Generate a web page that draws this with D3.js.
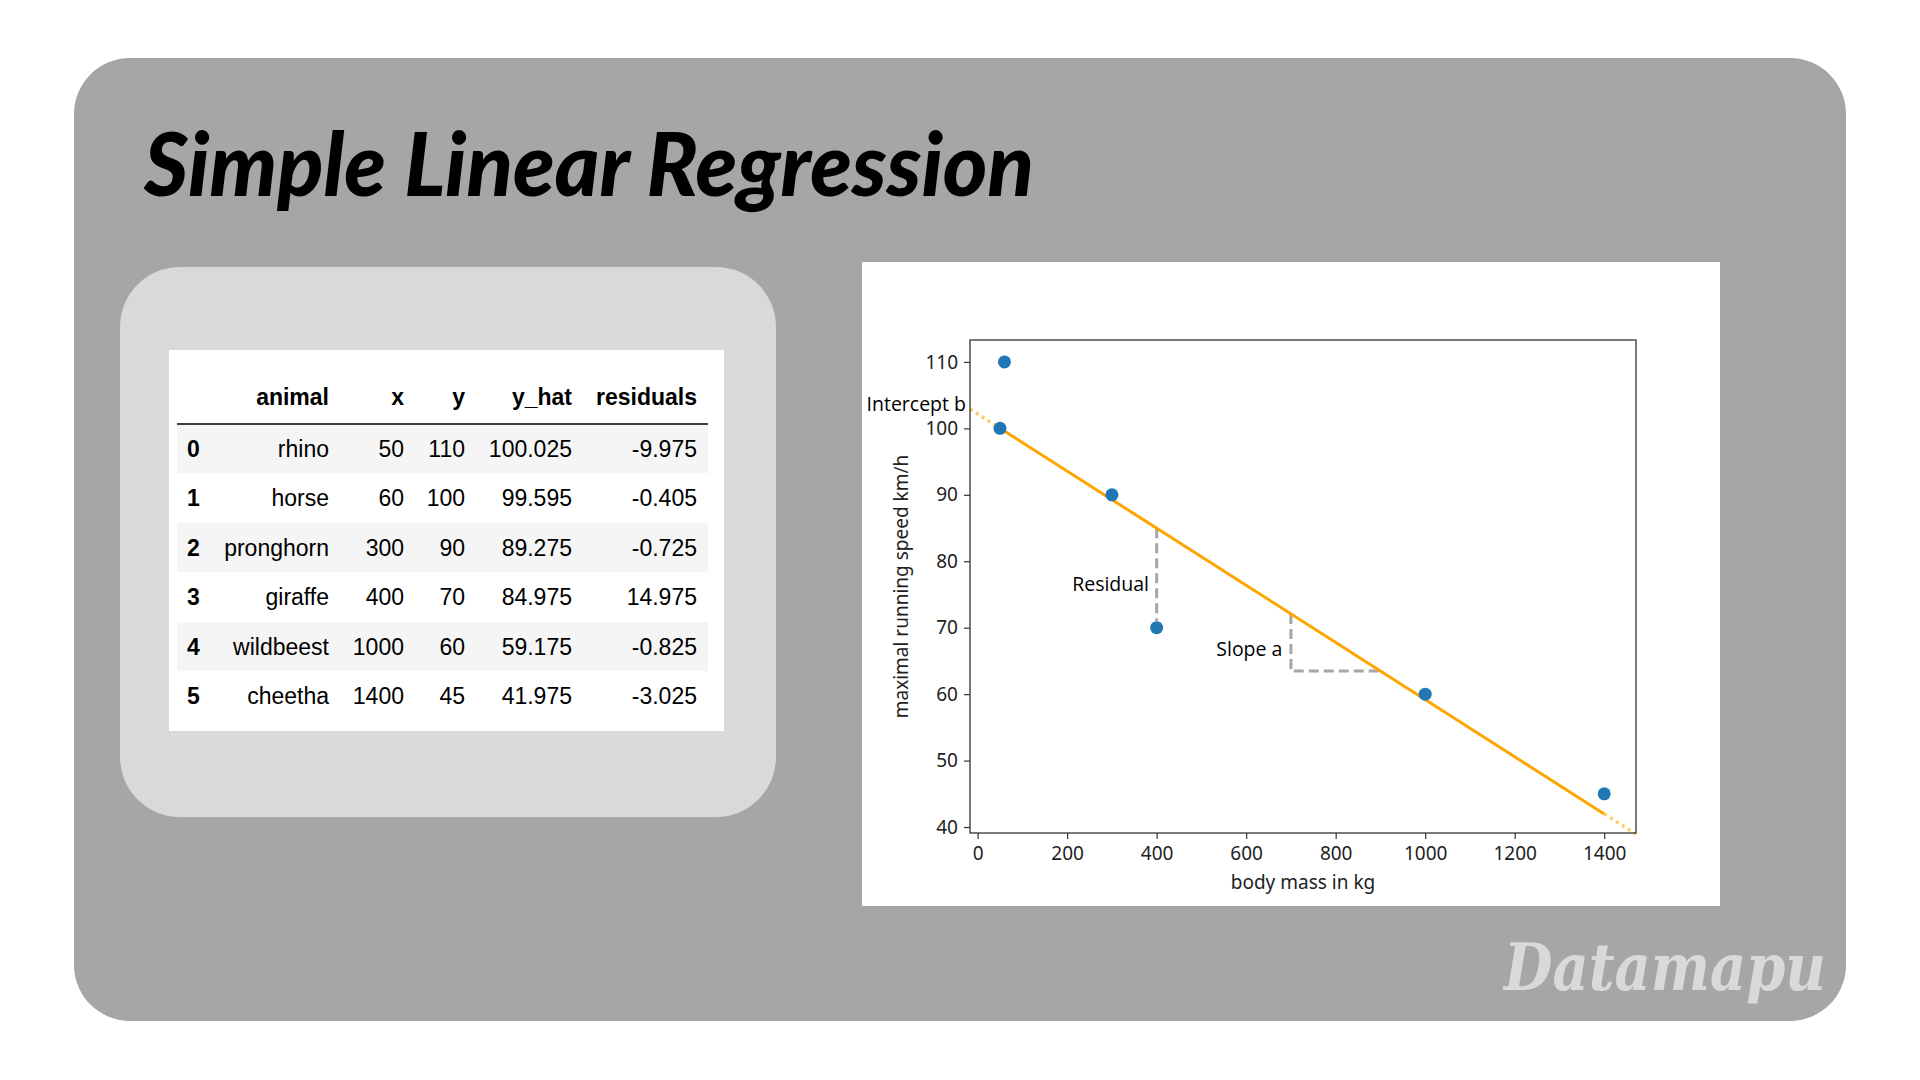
<!DOCTYPE html>
<html>
<head>
<meta charset="utf-8">
<script src="https://cdn.jsdelivr.net/npm/d3@7"></script>
<style>
  body { margin: 0; background: #fff; }
</style>
</head>
<body>
<script>
// table data
const columns = ["animal", "x", "y", "y_hat", "residuals"];
const animals = ["rhino", "horse", "pronghorn", "giraffe", "wildbeest", "cheetha"];
const xs = [50, 60, 300, 400, 1000, 1400];
const ys = [110, 100, 90, 70, 60, 45];
const yHats = [100.025, 99.595, 89.275, 84.975, 59.175, 41.975];
const residuals = [-9.975, -0.405, -0.725, 14.975, -0.825, -3.025];

// scatter points as drawn in the plot
const pointX = [60, 50, 300, 400, 1000, 1400];
const pointY = [110, 100, 90, 70, 60, 45];

// fitted line y = a*x + b
const slopeA = -0.043;
const interceptB = 102.175;
const fitRange = [50, 1400];

const xTicks = [0, 200, 400, 600, 800, 1000, 1200, 1400];
const yTicks = [40, 50, 60, 70, 80, 90, 100, 110];

const width = 1920, height = 1080;

const svg = d3.select('body').append('svg')
  .attr('width', width)
  .attr('height', height);

svg.append('rect').attr('width', width).attr('height', height).attr('fill', '#fff');

// big grey card
svg.append('rect')
  .attr('x', 74).attr('y', 58)
  .attr('width', 1772).attr('height', 963)
  .attr('rx', 56)
  .attr('fill', '#a6a6a6');

// title
svg.append('text')
  .attr('x', 144).attr('y', 196)
  .attr('textLength', 890)
  .attr('lengthAdjust', 'spacingAndGlyphs')
  .style('font-family', 'Lato')
  .style('font-style', 'italic')
  .style('font-weight', 900)
  .style('font-size', '88px')
  .attr('fill', '#000')
  .text('Simple Linear Regression');

// watermark
svg.append('text')
  .attr('x', 1504).attr('y', 990)
  .attr('textLength', 322)
  .attr('lengthAdjust', 'spacingAndGlyphs')
  .style('font-family', 'DejaVu Serif')
  .style('font-style', 'italic')
  .style('font-weight', 'bold')
  .style('font-size', '66px')
  .attr('fill', '#d9d9d9')
  .text('Datamapu');

// ---- table panel ----
svg.append('rect')
  .attr('x', 120).attr('y', 267)
  .attr('width', 656).attr('height', 550)
  .attr('rx', 60)
  .attr('fill', '#d9d9d9');

svg.append('rect')
  .attr('x', 169).attr('y', 350)
  .attr('width', 555).attr('height', 381)
  .attr('fill', '#fff');

const tbl = svg.append('g')
  .style('font-family', 'Liberation Sans, Arial, sans-serif')
  .style('font-size', '23px')
  .attr('fill', '#000');

const colRight = [329, 404, 465, 572, 697];
const rowTop = 424, rowH = 49.5;

const rows = animals.map((a, i) => [a, String(xs[i]), String(ys[i]), String(yHats[i]), String(residuals[i])]);

tbl.selectAll('rect.stripe')
  .data(rows)
  .join('rect')
  .attr('class', 'stripe')
  .attr('x', 177).attr('width', 531)
  .attr('y', (d, i) => rowTop + i * rowH)
  .attr('height', rowH)
  .attr('fill', (d, i) => i % 2 === 0 ? '#f5f5f5' : '#fff');

tbl.append('line')
  .attr('x1', 177).attr('x2', 708)
  .attr('y1', rowTop).attr('y2', rowTop)
  .attr('stroke', '#000').attr('stroke-width', 1.5);

tbl.selectAll('text.head')
  .data(columns)
  .join('text')
  .attr('class', 'head')
  .attr('x', (d, i) => colRight[i])
  .attr('y', 397)
  .attr('dy', '0.35em')
  .attr('text-anchor', 'end')
  .style('font-weight', 'bold')
  .text(d => d);

rows.forEach((r, i) => {
  const cy = rowTop + i * rowH + rowH / 2;
  tbl.append('text')
    .attr('x', 187).attr('y', cy).attr('dy', '0.35em')
    .style('font-weight', 'bold')
    .text(i);
  r.forEach((v, j) => {
    tbl.append('text')
      .attr('x', colRight[j]).attr('y', cy).attr('dy', '0.35em')
      .attr('text-anchor', 'end')
      .text(v);
  });
});

// ---- scatter plot panel ----
svg.append('rect')
  .attr('x', 862).attr('y', 262)
  .attr('width', 858).attr('height', 644)
  .attr('fill', '#fff');

const plotL = 970, plotR = 1636, plotT = 340, plotB = 833;

const x = d3.scaleLinear().domain([-17, 1471]).range([plotL, plotR]);
const y = d3.scaleLinear().domain([39.1, 113.3]).range([plotB, plotT]);

const plot = svg.append('g');

const axisFont = 'Noto Sans, sans-serif';

plot.append('g')
  .attr('transform', `translate(0,${plotB})`)
  .call(d3.axisBottom(x).tickValues(xTicks).tickSize(6).tickPadding(8).tickFormat(d3.format('d')))
  .call(g => g.select('.domain').remove())
  .call(g => g.selectAll('line').attr('stroke', '#333').attr('stroke-width', 1.2))
  .call(g => g.selectAll('text').style('font-family', axisFont).style('font-size', '19px').attr('fill', '#222'));

plot.append('g')
  .attr('transform', `translate(${plotL},0)`)
  .call(d3.axisLeft(y).tickValues(yTicks).tickSize(6).tickPadding(6).tickFormat(d3.format('d')))
  .call(g => g.select('.domain').remove())
  .call(g => g.selectAll('line').attr('stroke', '#333').attr('stroke-width', 1.2))
  .call(g => g.selectAll('text').style('font-family', axisFont).style('font-size', '19px').attr('fill', '#222'));

// axis labels
plot.append('text')
  .attr('x', (plotL + plotR) / 2).attr('y', 889)
  .attr('text-anchor', 'middle')
  .style('font-family', axisFont).style('font-size', '19px')
  .attr('fill', '#222')
  .text('body mass in kg');

plot.append('text')
  .attr('transform', `translate(908,${(plotT + plotB) / 2}) rotate(-90)`)
  .attr('text-anchor', 'middle')
  .style('font-family', axisFont).style('font-size', '19px')
  .attr('fill', '#222')
  .text('maximal running speed km/h');

const fit = v => slopeA * v + interceptB;
const lineGen = d3.line().x(d => x(d)).y(d => y(fit(d)));

// dotted extensions
const xDom = x.domain();
plot.append('path')
  .datum([xDom[0], fitRange[0]])
  .attr('d', lineGen)
  .attr('stroke', '#ffa500').attr('stroke-opacity', 0.6)
  .attr('stroke-width', 3.5).attr('stroke-dasharray', '3,4')
  .attr('fill', 'none');
plot.append('path')
  .datum([fitRange[1], xDom[1]])
  .attr('d', lineGen)
  .attr('stroke', '#ffa500').attr('stroke-opacity', 0.6)
  .attr('stroke-width', 3.5).attr('stroke-dasharray', '3,4')
  .attr('fill', 'none');

// annotation helpers: residual and slope triangle
const dashStyle = sel => sel.attr('stroke', '#a6a6a6').attr('stroke-width', 3)
  .attr('stroke-dasharray', '10,5').attr('fill', 'none');

const resX = xs[3];
plot.append('path')
  .datum([[resX, fit(resX)], [resX, ys[3] + 1]])
  .attr('d', d3.line().x(d => x(d[0])).y(d => y(d[1])))
  .call(dashStyle);

const slopeX0 = 700, slopeDx = 200;
plot.append('path')
  .datum([[slopeX0, fit(slopeX0)], [slopeX0, fit(slopeX0 + slopeDx)], [slopeX0 + slopeDx, fit(slopeX0 + slopeDx)]])
  .attr('d', d3.line().x(d => x(d[0])).y(d => y(d[1])))
  .call(dashStyle);

// fitted line
plot.append('path')
  .datum(fitRange)
  .attr('d', lineGen)
  .attr('stroke', '#ffa500')
  .attr('stroke-width', 3)
  .attr('fill', 'none');

// points
plot.selectAll('circle')
  .data(pointX.map((v, i) => [v, pointY[i]]))
  .join('circle')
  .attr('cx', d => x(d[0]))
  .attr('cy', d => y(d[1]))
  .attr('r', 6.5)
  .attr('fill', '#1f77b4');

// frame
plot.append('rect')
  .attr('x', plotL).attr('y', plotT)
  .attr('width', plotR - plotL).attr('height', plotB - plotT)
  .attr('fill', 'none').attr('stroke', '#333').attr('stroke-width', 1.3);

// annotation texts
const annFont = 'Open Sans, sans-serif';
plot.append('text')
  .attr('x', 966).attr('y', 404).attr('dy', '0.35em')
  .attr('text-anchor', 'end')
  .style('font-family', annFont).style('font-size', '19.5px')
  .text('Intercept b');
plot.append('text')
  .attr('x', x(383)).attr('y', y(76.6)).attr('dy', '0.35em')
  .attr('text-anchor', 'end')
  .style('font-family', annFont).style('font-size', '19.5px')
  .text('Residual');
plot.append('text')
  .attr('x', x(681)).attr('y', y(66.8)).attr('dy', '0.35em')
  .attr('text-anchor', 'end')
  .style('font-family', annFont).style('font-size', '19.5px')
  .text('Slope a');
</script>
</body>
</html>
